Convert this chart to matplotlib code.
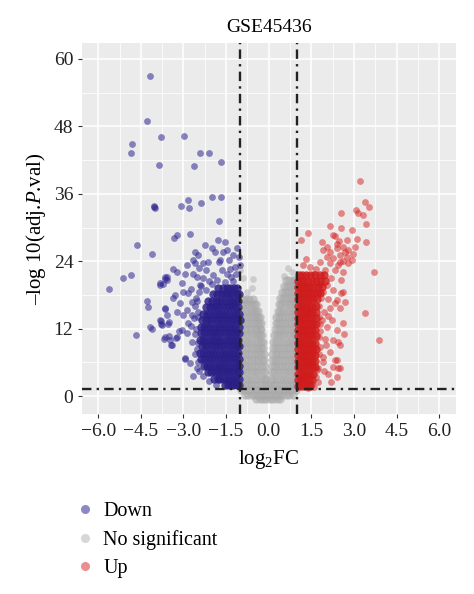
import matplotlib
matplotlib.use("Agg")
import matplotlib.pyplot as plt
from matplotlib.lines import Line2D
from matplotlib.ticker import MultipleLocator

plt.rcParams['font.family'] = ['Liberation Serif', 'DejaVu Serif']
plt.rcParams['mathtext.fontset'] = 'custom'
plt.rcParams['mathtext.rm'] = 'Liberation Serif'
plt.rcParams['mathtext.it'] = 'Liberation Serif:italic'

# ---- data (log2FC, -log10 adj.P) ----
# scattered down-regulated genes
down_x = [-4.19, -4.30, -3.79, -2.99, -4.82, -4.86, -2.42, -2.11, -1.68, -3.86, -2.64, -2.84, -2.00, -1.69,
          -2.40, -4.05, -3.99, -4.02, -3.10, -2.81, -1.76, -3.34, -3.22, -2.76, -4.63, -4.11, -5.11, -4.85,
          -5.62, -4.30, -4.25, -4.66, -4.18, -3.80, -3.79, -3.64, -3.82, -3.66, -3.57, -3.50, -3.69, -3.50,
          -3.44, -3.27, -3.17, -2.94, -2.77,
          -2.24, -2.01, -1.78, -1.54, -1.89, -1.62, -1.46, -1.11, -1.04,
          -2.60, -2.48, -2.66, -2.31, -2.13, -2.60, -2.89, -2.95, -2.66, -2.54, -3.36, -3.24, -3.65, -3.71,
          -3.83, -3.59,
          -1.66, -1.48, -1.31, -1.19, -1.01, -1.83, -2.01, -2.30, -2.42,
          -3.06, -3.01, -3.30, -3.36, -2.83, -2.71, -3.12, -2.89, -3.01, -3.24, -3.65, -3.59, -3.83, -3.77,
          -3.54, -4.12, -3.65, -3.48, -3.42, -3.24, -3.06, -2.89, -2.71, -2.95, -2.54, -2.60,
          -2.55, -2.62, -2.75, -2.58, -2.50, -2.45, -1.95, -1.75, -1.40, -1.25, -1.15, -2.20, -1.55, -2.52,
          -2.65,
          -2.50, -2.55, -2.48, -2.60, -2.70, -2.52, -2.48, -2.45, -2.30, -2.10, -1.85, -2.40, -2.20, -2.10,
          -2.75, -2.85, -2.45, -1.35, -1.70, -1.25]
down_y = [57.0, 48.9, 46.1, 46.3, 44.8, 43.3, 43.3, 43.3, 41.7, 41.2, 40.9, 34.9, 35.4, 35.5,
          34.4, 33.8, 33.4, 33.6, 33.8, 33.5, 31.2, 28.2, 28.7, 28.8, 26.8, 25.3, 21.0, 21.5,
          19.1, 16.9, 15.9, 10.8, 12.2, 13.4, 12.8, 15.5, 20.1, 20.9, 21.2, 13.1, 10.2, 10.7,
          9.0, 10.3, 11.5, 6.5, 5.9,
          26.9, 26.3, 27.8, 27.5, 25.7, 25.7, 26.0, 26.3, 24.8,
          25.7, 25.1, 24.2, 23.6, 23.9, 23.6, 23.3, 21.8, 21.8, 21.2, 22.7, 22.1, 21.2, 20.0,
          19.8, 20.6,
          22.4, 21.8, 21.2, 23.0, 23.3, 20.6, 20.0, 21.0, 19.8,
          20.1, 18.6, 18.0, 17.4, 18.3, 16.8, 16.5, 15.3, 14.4, 15.0, 15.6, 14.4, 13.5, 12.6,
          12.9, 12.0, 10.5, 9.9, 9.1, 10.5, 11.8, 11.2, 9.7, 6.8, 8.3, 7.4,
          17.5, 13.8, 12.5, 11.0, 15.0, 18.5, 21.5, 23.8, 24.2, 20.5, 21.8, 22.5, 20.3, 4.9,
          3.6,
          9.5, 12.0, 14.0, 16.0, 14.5, 17.0, 6.0, 4.5, 3.5, 2.6, 1.9, 19.5, 18.8, 20.5,
          19.0, 13.0, 22.8, 22.6, 24.3, 25.1]

# dense down-regulated core, one list of log2FC per -log10 P row
down_core_y = [2.0, 3.1, 4.3, 5.4, 6.6, 7.7, 8.9, 10.0, 11.2, 12.3, 13.5, 14.6, 15.8, 16.9, 18.1, 19.2]
down_core_x = [
    [-1.55, -1.45, -1.33, -1.24, -1.12, -1.03],
    [-1.92, -1.80, -1.70, -1.58, -1.47, -1.36, -1.25, -1.15, -1.04],
    [-2.12, -2.02, -1.90, -1.79, -1.68, -1.57, -1.46, -1.35, -1.24, -1.13, -1.03],
    [-2.28, -2.16, -2.05, -1.93, -1.82, -1.71, -1.60, -1.49, -1.38, -1.27, -1.16, -1.05],
    [-2.38, -2.26, -2.14, -2.03, -1.91, -1.80, -1.69, -1.58, -1.47, -1.36, -1.25, -1.14, -1.04],
    [-2.41, -2.30, -2.18, -2.07, -1.95, -1.84, -1.73, -1.62, -1.51, -1.40, -1.29, -1.18, -1.07],
    [-2.36, -2.25, -2.13, -2.01, -1.90, -1.79, -1.68, -1.56, -1.45, -1.34, -1.23, -1.12, -1.03],
    [-2.42, -2.31, -2.19, -2.08, -1.96, -1.85, -1.74, -1.63, -1.52, -1.41, -1.30, -1.19, -1.08],
    [-2.38, -2.27, -2.15, -2.03, -1.92, -1.81, -1.70, -1.58, -1.47, -1.36, -1.25, -1.14, -1.03],
    [-2.40, -2.29, -2.17, -2.06, -1.94, -1.83, -1.72, -1.61, -1.50, -1.39, -1.28, -1.17, -1.06],
    [-2.33, -2.21, -2.10, -1.98, -1.87, -1.76, -1.65, -1.54, -1.43, -1.32, -1.21, -1.10, -1.02],
    [-2.30, -2.17, -2.05, -1.93, -1.82, -1.71, -1.60, -1.49, -1.38, -1.27, -1.16, -1.05],
    [-2.22, -2.08, -1.97, -1.85, -1.74, -1.63, -1.52, -1.41, -1.30, -1.19, -1.08],
    [-2.12, -1.98, -1.86, -1.75, -1.63, -1.52, -1.41, -1.30, -1.19, -1.08],
    [-1.96, -1.82, -1.69, -1.57, -1.46, -1.35, -1.24, -1.13, -1.03],
    [-1.78, -1.62, -1.48, -1.36, -1.22, -1.10],
]

# not significant genes (the "V")
ns_x = [-0.58, -0.55, -1.01, -0.90, -0.75, 0.69, 0.82, 0.55]
ns_y = [19.3, 20.8, 22.4, 21.0, 18.5, 22.8, 22.0, 21.4]
ns_core_y = [-0.6, 0.2, 1.0,
             2.0, 3.1, 4.2, 5.3, 6.4, 7.5, 8.6, 9.7, 10.8, 11.9, 13.0, 14.1, 15.2, 16.3, 17.3,
             2.0, 3.1, 4.2, 5.3, 6.4, 7.5, 8.6, 9.7, 10.8, 11.9, 13.0, 14.1, 15.2, 16.3, 17.4,
             18.5, 19.6, 20.7]
ns_core_x = [
    [-0.45, -0.32, -0.20, -0.08, 0.04, 0.16, 0.28, 0.40],
    [-0.85, -0.72, -0.60, -0.48, -0.36, -0.24, -0.12, 0.0, 0.12, 0.24, 0.36, 0.48, 0.60, 0.72, 0.85],
    [-0.98, -0.86, -0.74, -0.62, -0.50, -0.38, -0.26, -0.14, -0.02, 0.10, 0.22, 0.34, 0.46, 0.58,
     0.70, 0.82, 0.95],
    [-0.97, -0.85, -0.73, -0.61, -0.49, -0.37, -0.25, -0.13, -0.05],
    [-0.97, -0.85, -0.73, -0.61, -0.49, -0.37, -0.25, -0.14, -0.08],
    [-0.96, -0.84, -0.72, -0.60, -0.48, -0.36, -0.24, -0.12],
    [-0.97, -0.85, -0.73, -0.61, -0.49, -0.37, -0.25, -0.14],
    [-0.96, -0.84, -0.72, -0.60, -0.48, -0.36, -0.25, -0.15],
    [-0.97, -0.85, -0.73, -0.61, -0.49, -0.37, -0.26, -0.17],
    [-0.96, -0.84, -0.72, -0.60, -0.48, -0.37, -0.27, -0.19],
    [-0.97, -0.85, -0.73, -0.61, -0.49, -0.38, -0.28, -0.21],
    [-0.96, -0.84, -0.72, -0.60, -0.49, -0.38, -0.29, -0.23],
    [-0.97, -0.85, -0.73, -0.61, -0.50, -0.40, -0.31, -0.26],
    [-0.96, -0.84, -0.72, -0.61, -0.51, -0.42, -0.33, -0.28],
    [-0.97, -0.85, -0.74, -0.63, -0.53, -0.44, -0.36, -0.31],
    [-0.96, -0.84, -0.73, -0.62, -0.53, -0.45, -0.37],
    [-0.95, -0.83, -0.72, -0.62, -0.53, -0.45],
    [-0.92, -0.80, -0.68, -0.57],
    [0.05, 0.15, 0.27, 0.39, 0.51, 0.63, 0.75, 0.87, 0.97],
    [0.07, 0.18, 0.30, 0.42, 0.54, 0.66, 0.78, 0.90, 0.98],
    [0.09, 0.20, 0.32, 0.44, 0.56, 0.68, 0.80, 0.92],
    [0.10, 0.21, 0.33, 0.45, 0.57, 0.69, 0.81, 0.93],
    [0.11, 0.22, 0.34, 0.46, 0.58, 0.70, 0.82, 0.94],
    [0.13, 0.24, 0.36, 0.48, 0.60, 0.72, 0.84, 0.96],
    [0.14, 0.25, 0.37, 0.49, 0.61, 0.73, 0.85, 0.96],
    [0.16, 0.27, 0.39, 0.51, 0.63, 0.75, 0.87, 0.97],
    [0.18, 0.29, 0.40, 0.52, 0.64, 0.76, 0.88, 0.97],
    [0.21, 0.31, 0.42, 0.54, 0.66, 0.78, 0.90, 0.98],
    [0.24, 0.34, 0.45, 0.56, 0.68, 0.80, 0.92],
    [0.27, 0.37, 0.48, 0.59, 0.70, 0.82, 0.93],
    [0.31, 0.41, 0.52, 0.63, 0.74, 0.85, 0.95],
    [0.35, 0.45, 0.56, 0.67, 0.78, 0.89, 0.97],
    [0.40, 0.50, 0.61, 0.72, 0.83, 0.94],
    [0.47, 0.57, 0.68, 0.79, 0.90],
    [0.54, 0.64, 0.75, 0.86, 0.95],
    [0.62, 0.73, 0.84, 0.93],
]

# scattered up-regulated genes
up_x = [3.22, 3.38, 3.54, 3.06, 3.14, 3.33, 2.56, 3.41, 2.16, 2.54, 2.94, 1.39, 1.14, 2.34, 2.48, 2.75,
        3.11, 3.41, 1.88, 3.70, 3.38, 3.88,
        1.92, 2.15, 2.39, 2.62, 2.80, 2.04, 2.27, 2.51, 2.74, 1.80, 2.15, 2.45, 2.80, 1.68, 1.98, 2.33,
        2.62, 1.45, 1.22, 1.57, 2.51, 2.92, 2.98, 3.05, 1.30, 2.60, 2.27, 2.40, 2.05, 2.70,
        2.56, 2.27, 2.62, 2.68, 2.39, 2.15, 2.51, 1.86, 2.21, 2.04, 2.39, 1.98, 2.27, 2.51, 1.80, 2.15,
        2.39, 1.92, 1.74, 2.27, 2.51, 2.10, 1.68, 1.51, 2.39, 2.56, 2.33, 2.45, 2.33, 2.45, 1.85, 1.95,
        1.82, 2.05, 2.20, 1.80, 1.90, 1.78, 2.60, 2.65, 1.60, 1.40,
        1.75, 1.70, 1.78, 1.76, 1.80, 1.77, 1.92, 2.08, 2.10, 2.00, 1.95, 2.20]
up_y = [38.3, 34.6, 33.6, 33.2, 32.5, 32.2, 32.6, 30.6, 30.2, 30.0, 29.5, 29.1, 27.8, 28.5, 27.6, 27.8,
        28.0, 27.4, 27.4, 22.0, 14.8, 10.0,
        26.0, 25.7, 26.3, 26.6, 26.0, 24.8, 24.5, 25.1, 24.8, 23.9, 23.6, 23.3, 23.6, 22.7, 22.4, 22.4,
        22.1, 23.0, 23.3, 21.8, 23.9, 24.2, 25.2, 26.5, 24.4, 24.0, 28.7, 27.0, 26.5, 25.6,
        20.6, 18.9, 18.6, 16.8, 17.1, 15.6, 15.6, 13.5, 13.5, 12.3, 11.7, 10.2, 9.9, 9.1, 8.8, 7.9,
        6.4, 6.1, 4.9, 5.2, 4.9, 4.0, 3.4, 2.2, 3.4, 18.3, 16.5, 9.7, 6.4, 5.0, 17.5, 15.0,
        11.5, 19.8, 21.0, 20.0, 7.0, 14.0, 13.0, 11.0, 1.6, 1.5,
        2.5, 4.6, 7.5, 10.5, 12.8, 16.0, 18.5, 17.3, 14.2, 9.0, 4.5, 2.5]

# dense up-regulated core
up_core_y = [1.8, 2.9, 4.0, 5.1, 6.2, 7.3, 8.4, 9.5, 10.6, 11.7, 12.8, 13.9, 15.0, 16.1, 17.2, 18.3,
             19.4, 20.5, 21.5]
up_core_x = [
    [1.03, 1.13, 1.24, 1.35, 1.45],
    [1.02, 1.12, 1.22, 1.32, 1.42, 1.52],
    [1.04, 1.14, 1.24, 1.34, 1.44, 1.55],
    [1.02, 1.12, 1.22, 1.32, 1.42, 1.52, 1.62],
    [1.03, 1.13, 1.23, 1.33, 1.43, 1.53, 1.64],
    [1.02, 1.12, 1.22, 1.32, 1.42, 1.52, 1.62],
    [1.04, 1.14, 1.24, 1.34, 1.44, 1.55, 1.66],
    [1.02, 1.12, 1.22, 1.32, 1.42, 1.52, 1.63],
    [1.03, 1.13, 1.23, 1.33, 1.43, 1.54, 1.65],
    [1.02, 1.12, 1.22, 1.32, 1.42, 1.52, 1.63],
    [1.04, 1.14, 1.24, 1.34, 1.44, 1.55, 1.67],
    [1.02, 1.12, 1.22, 1.32, 1.42, 1.53, 1.65],
    [1.03, 1.13, 1.23, 1.33, 1.43, 1.54, 1.66],
    [1.02, 1.12, 1.22, 1.32, 1.43, 1.54, 1.67],
    [1.04, 1.14, 1.24, 1.34, 1.45, 1.57, 1.70],
    [1.02, 1.12, 1.22, 1.33, 1.44, 1.56, 1.69, 1.82],
    [1.03, 1.13, 1.24, 1.35, 1.47, 1.60, 1.74, 1.88],
    [1.02, 1.13, 1.25, 1.38, 1.52, 1.67, 1.82, 1.97],
    [1.05, 1.18, 1.32, 1.47, 1.63, 1.80, 1.96],
]

xtick_vals = [-6.0, -4.5, -3.0, -1.5, 0.0, 1.5, 3.0, 4.5, 6.0]
xtick_labels = ['\u22126.0', '\u22124.5', '\u22123.0', '\u22121.5', '0.0', '1.5', '3.0', '4.5', '6.0']
ytick_vals = [0, 12, 24, 36, 48, 60]
fc_cut = 1.0
p_cut = 1.301


def flatten(rows_y, rows_x):
    xs, ys = [], []
    for y, row in zip(rows_y, rows_x):
        xs += row
        ys += [y] * len(row)
    return xs, ys


dcx, dcy = flatten(down_core_y, down_core_x)
ncx, ncy = flatten(ns_core_y, ns_core_x)
ucx, ucy = flatten(up_core_y, up_core_x)

down_col = '#2E2691'
down_dense = '#291E86'
ns_col = '#A8A8A8'
up_col = '#D61F1F'
up_dense = '#CF1B1B'

fig = plt.figure(figsize=(4.74, 5.94), dpi=100)
ax = fig.add_axes([0.1724, 0.3025, 0.7896, 0.6256])
ax.set_facecolor('#EBEBEB')
for s in ax.spines.values():
    s.set_visible(False)

ms = 24
# dense clouds: many overlapping genes, so they come out nearly opaque
ax.scatter(ncx, ncy, s=36, c=ns_col, alpha=0.6, linewidths=0, zorder=2)
ax.scatter(ns_x, ns_y, s=ms, c=ns_col, alpha=0.45, linewidths=0, zorder=2)
ax.scatter(down_x, down_y, s=ms, c=down_col, alpha=0.55, linewidths=0, zorder=3)
ax.scatter(dcx, dcy, s=36, c=down_dense, alpha=0.82, linewidths=0, zorder=3)
ax.scatter(up_x, up_y, s=ms, c=up_col, alpha=0.5, linewidths=0, zorder=3)
ax.scatter(ucx, ucy, s=36, c=up_dense, alpha=0.82, linewidths=0, zorder=3)

ls = (0, (4, 2.2, 1, 2.2))
ax.axhline(p_cut, color='#222222', lw=1.7, ls=ls, zorder=4)
ax.axvline(-fc_cut, color='#222222', lw=1.7, ls=ls, zorder=4)
ax.axvline(fc_cut, color='#222222', lw=1.7, ls=ls, zorder=4)

ax.set_xlim(-6.58, 6.59)
ax.set_ylim(-3.26, 62.9)
ax.set_xticks(xtick_vals, xtick_labels)
ax.set_yticks(ytick_vals)
ax.xaxis.set_minor_locator(MultipleLocator(0.75))
ax.yaxis.set_minor_locator(MultipleLocator(6))
ax.set_axisbelow(True)
ax.grid(which='major', color='white', lw=1.1)
ax.grid(which='minor', color='white', lw=0.55)
ax.tick_params(which='major', length=3, width=0.8, color='#333333', labelcolor='#222222',
               labelsize=14, pad=3)
ax.tick_params(which='minor', length=0)

ax.set_title('GSE45436', fontsize=14, pad=8)
ax.set_xlabel('log$_2$FC', fontsize=15, labelpad=6)
ax.set_ylabel('\u2013log 10(adj.$\\mathit{P}$.val)', fontsize=15, labelpad=4)

handles = [
    Line2D([], [], marker='o', ls='', markersize=6.5, markeredgewidth=0,
           markerfacecolor=down_col, alpha=0.55),
    Line2D([], [], marker='o', ls='', markersize=6.5, markeredgewidth=0,
           markerfacecolor=ns_col, alpha=0.45),
    Line2D([], [], marker='o', ls='', markersize=6.5, markeredgewidth=0,
           markerfacecolor=up_col, alpha=0.5),
]
fig.legend(handles, ['Down', 'No significant', 'Up'], loc='upper left',
           bbox_to_anchor=(0.1624, 0.155), frameon=False, fontsize=14.5,
           handlelength=0.8, handletextpad=0.5, labelspacing=0.45,
           borderpad=0, borderaxespad=0)

fig.savefig('out.png', dpi=100)
